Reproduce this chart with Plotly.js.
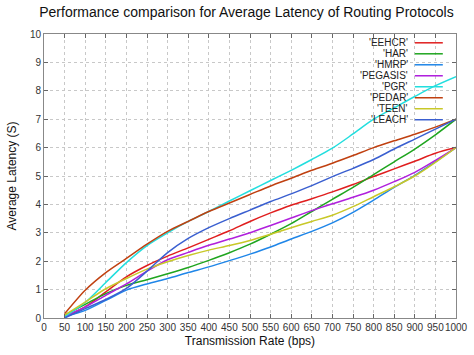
<!DOCTYPE html>
<html><head><meta charset="utf-8">
<script src="https://cdn.plot.ly/plotly-3.0.1.min.js"></script>
<style>html,body{margin:0;padding:0;background:#fff}#chart{width:474px;height:355px}</style>
</head><body><div id="chart"></div>
<script>
const rates = [50,100,150,200,250,300,350,400,450,500,550,600,650,700,750,800,850,900,950,1000];
const names = ["'EEHCR'","'HAR'","'HMRP'","'PEGASIS'","'PGR'","'PEDAR'","'TEEN'","'LEACH'"];
const colors = ["#e01e1e","#1fa51f","#1f86e8","#b020dd","#22dede","#c04010","#c8c828","#3a5fd0"];
const EEHCR   = [0.05,0.39,0.92,1.45,1.85,2.18,2.47,2.77,3.07,3.40,3.70,3.97,4.20,4.44,4.70,4.98,5.25,5.52,5.80,6.00];
const HAR     = [0.10,0.48,0.86,1.15,1.35,1.56,1.78,2.03,2.30,2.60,2.95,3.32,3.75,4.18,4.60,5.05,5.50,5.95,6.45,7.00];
const HMRP    = [0.05,0.27,0.62,0.98,1.20,1.39,1.60,1.80,2.02,2.25,2.50,2.78,3.05,3.35,3.72,4.15,4.60,5.02,5.50,6.00];
const PEGASIS = [0.05,0.39,0.80,1.20,1.65,2.05,2.31,2.56,2.78,3.00,3.26,3.52,3.78,4.02,4.25,4.50,4.80,5.13,5.55,6.00];
const PGR     = [0.05,0.55,1.25,1.95,2.55,3.00,3.40,3.75,4.12,4.48,4.84,5.20,5.58,5.98,6.48,7.00,7.40,7.80,8.18,8.50];
const PEDAR   = [0.15,0.98,1.60,2.10,2.60,3.05,3.40,3.75,4.05,4.35,4.65,4.92,5.20,5.45,5.72,6.00,6.24,6.47,6.72,7.00];
const TEEN    = [0.10,0.56,1.03,1.39,1.72,1.98,2.20,2.39,2.55,2.73,2.95,3.18,3.40,3.62,3.92,4.27,4.62,5.00,5.48,6.00];
const LEACH   = [0.00,0.33,0.65,1.04,1.65,2.30,2.80,3.18,3.50,3.80,4.10,4.37,4.66,4.98,5.27,5.58,5.95,6.30,6.65,7.00];
const series = [EEHCR,HAR,HMRP,PEGASIS,PGR,PEDAR,TEEN,LEACH];
const xTicks = [0,50,100,150,200,250,300,350,400,450,500,550,600,650,700,750,800,850,900,950,1000];
const yTicks = [0,1,2,3,4,5,6,7,8,9,10];

const traces = series.map((s,i)=>({x:rates,y:s,type:'scatter',mode:'lines',name:names[i],
  line:{color:colors[i],width:1.5,shape:'spline',smoothing:0.8},showlegend:false,hoverinfo:'skip'}));

const annotations = [], shapes = [];
names.forEach((n,i)=>{
  const y = 0.969 - i*0.0387;
  annotations.push({xref:'paper',yref:'paper',x:0.888,y:y,xanchor:'right',yanchor:'middle',
    text:n,showarrow:false,font:{family:'Liberation Sans, Arial, sans-serif',size:10,color:'#222'}});
  shapes.push({type:'line',xref:'paper',yref:'paper',x0:0.900,x1:0.968,y0:y,y1:y,
    line:{color:colors[i],width:1.5}});
});

const axisCommon = {showline:true,linecolor:'#888',linewidth:1,mirror:'ticks',ticks:'inside',ticklen:4,
  tickcolor:'#666',showgrid:true,griddash:'dot',gridcolor:'#c8c8c8',gridwidth:1,zeroline:false,
  tickfont:{family:'Liberation Sans, Arial, sans-serif',size:10,color:'#333'}};

const layout = {
  width:474,height:355,margin:{l:44,r:18,t:34,b:37},paper_bgcolor:'#fff',plot_bgcolor:'#fff',
  font:{family:'Liberation Sans, Arial, sans-serif',color:'#000'},
  title:{text:'Performance comparison for Average Latency of Routing Protocols',font:{size:14,color:'#111'},
    x:0.52,xanchor:'center',y:0.965,yanchor:'middle'},
  xaxis:Object.assign({},axisCommon,{range:[0,1000],tickvals:xTicks,ticktext:xTicks.map(String),tickangle:0,
    title:{text:'Transmission Rate (bps)',font:{size:12,color:'#111'},standoff:4}}),
  yaxis:Object.assign({},axisCommon,{range:[0,10],tickvals:yTicks,ticktext:yTicks.map(String),
    title:{text:'Average Latency (S)',font:{size:12,color:'#111'},standoff:10}}),
  annotations:annotations,shapes:shapes,showlegend:false
};
Plotly.newPlot('chart',traces,layout,{staticPlot:true,displayModeBar:false});
</script></body></html>
